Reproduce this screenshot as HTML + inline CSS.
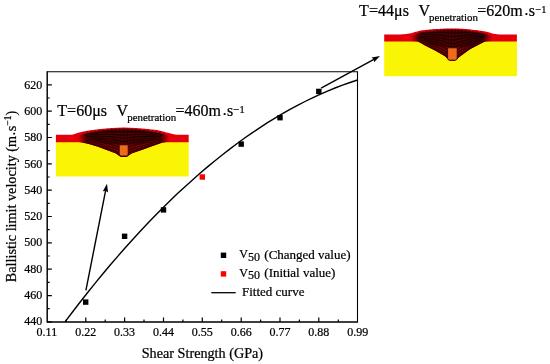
<!DOCTYPE html>
<html><head><meta charset="utf-8"><title>Ballistic limit velocity vs Shear Strength</title>
<style>
html,body{margin:0;padding:0;background:#fff;}
body{width:550px;height:364px;overflow:hidden;}
svg{display:block;}
text{font-family:"Liberation Serif","Times New Roman",serif;fill:#000;stroke:#000;stroke-width:0.22px;}
.tk{font-size:12px;}
.ax{font-size:14.2px;}
.lg{font-size:13px;}
.an{font-size:16px;}
</style></head><body>
<svg width="550" height="364" viewBox="0 0 550 364">
<rect width="550" height="364" fill="#fff"/>

<g stroke="#000" stroke-width="1.2" fill="none">
<path d="M47.2,71.2V321.9H358.05" stroke-width="1.45"/><path d="M47.2,71.7H357.5V321.9" stroke-width="1.1"/>
<path d="M47.2,321.9h4.6 M47.2,295.6h4.6 M47.2,269.2h4.6 M47.2,242.9h4.6 M47.2,216.5h4.6 M47.2,190.2h4.6 M47.2,163.8h4.6 M47.2,137.5h4.6 M47.2,111.1h4.6 M47.2,84.8h4.6 M47.2,308.7h2.5 M47.2,282.4h2.5 M47.2,256.0h2.5 M47.2,229.7h2.5 M47.2,203.4h2.5 M47.2,177.0h2.5 M47.2,150.7h2.5 M47.2,124.3h2.5 M47.2,98.0h2.5 M85.8,321.9v-4.3 M124.6,321.9v-4.3 M163.5,321.9v-4.3 M202.3,321.9v-4.3 M241.2,321.9v-4.3 M280.0,321.9v-4.3 M318.8,321.9v-4.3 M66.3,321.9v-2.3 M105.2,321.9v-2.3 M144.0,321.9v-2.3 M182.9,321.9v-2.3 M221.7,321.9v-2.3 M260.6,321.9v-2.3 M299.4,321.9v-2.3 M338.3,321.9v-2.3"/>
</g>
<text class="tk" x="42.3" y="325" text-anchor="end">440</text>
<text class="tk" x="42.3" y="299" text-anchor="end">460</text>
<text class="tk" x="42.3" y="273" text-anchor="end">480</text>
<text class="tk" x="42.3" y="246" text-anchor="end">500</text>
<text class="tk" x="42.3" y="220" text-anchor="end">520</text>
<text class="tk" x="42.3" y="194" text-anchor="end">540</text>
<text class="tk" x="42.3" y="168" text-anchor="end">560</text>
<text class="tk" x="42.3" y="141" text-anchor="end">580</text>
<text class="tk" x="42.3" y="115" text-anchor="end">600</text>
<text class="tk" x="42.3" y="89" text-anchor="end">620</text>
<text class="tk" x="46.9" y="336.2" text-anchor="middle" font-size="11.8">0.11</text>
<text class="tk" x="85.8" y="336.2" text-anchor="middle" font-size="11.8">0.22</text>
<text class="tk" x="124.6" y="336.2" text-anchor="middle" font-size="11.8">0.33</text>
<text class="tk" x="163.5" y="336.2" text-anchor="middle" font-size="11.8">0.44</text>
<text class="tk" x="202.3" y="336.2" text-anchor="middle" font-size="11.8">0.55</text>
<text class="tk" x="241.2" y="336.2" text-anchor="middle" font-size="11.8">0.66</text>
<text class="tk" x="280.0" y="336.2" text-anchor="middle" font-size="11.8">0.77</text>
<text class="tk" x="318.8" y="336.2" text-anchor="middle" font-size="11.8">0.88</text>
<text class="tk" x="357.7" y="336.2" text-anchor="middle" font-size="11.8">0.99</text>
<text class="ax" x="202.4" y="358.3" text-anchor="middle">Shear Strength (GPa)</text>
<text class="ax" transform="translate(16.1,196.5) rotate(-90)" text-anchor="middle">Ballistic limit velocity (m<tspan dy="2.8">·</tspan><tspan dy="-2.8">s</tspan><tspan font-size="9.5" dy="-5">−1</tspan><tspan dy="5">)</tspan></text>
<path d="M65.0,321.9 L72.5,312.0 L80.0,302.3 L87.5,292.7 L95.0,283.4 L102.5,274.3 L110.0,265.3 L117.5,256.6 L125.0,248.0 L132.5,239.7 L140.0,231.5 L147.5,223.5 L155.0,215.8 L162.5,208.2 L170.0,200.8 L177.5,193.6 L185.0,186.7 L192.5,179.9 L200.0,173.3 L207.5,166.9 L215.0,160.7 L222.5,154.7 L230.0,148.9 L237.5,143.2 L245.0,137.8 L252.5,132.6 L260.0,127.6 L267.5,122.7 L275.0,118.1 L282.5,113.7 L290.0,109.4 L297.5,105.4 L305.0,101.5 L312.5,97.8 L320.0,94.4 L327.5,91.1 L335.0,88.0 L342.5,85.2 L350.0,82.5 L357.5,80.0" fill="none" stroke="#000" stroke-width="1.4"/>
<rect x="83.0" y="299.4" width="5.4" height="5.4" fill="#000"/>
<rect x="121.9" y="233.6" width="5.4" height="5.4" fill="#000"/>
<rect x="160.8" y="207.2" width="5.4" height="5.4" fill="#000"/>
<rect x="238.5" y="141.4" width="5.4" height="5.4" fill="#000"/>
<rect x="277.3" y="115.0" width="5.4" height="5.4" fill="#000"/>
<rect x="316.1" y="88.7" width="5.4" height="5.4" fill="#000"/>
<rect x="199.6" y="174.3" width="5.4" height="5.4" fill="#f00"/>
<rect x="220.8" y="252.6" width="5.4" height="5.4" fill="#000"/>
<rect x="220.8" y="271.2" width="5.4" height="5.4" fill="#f00"/>
<path d="M211.3,292.7H235.7" stroke="#000" stroke-width="1.3"/>
<text class="lg" y="258.5"><tspan x="239.2" font-size="12" dy="-0.3">V</tspan><tspan x="248" font-size="12" dy="2.6">50</tspan><tspan x="264.3" dy="-2.3">(Changed value)</tspan></text>
<text class="lg" y="277.1"><tspan x="239.2" font-size="12" dy="-0.3">V</tspan><tspan x="248" font-size="12" dy="2.6">50</tspan><tspan x="264.3" dy="-2.3">(Initial value)</tspan></text>
<text class="lg" x="242" y="296.3">Fitted curve</text>
<path d="M85.9,290.4L105.6,190.7" stroke="#000" stroke-width="1.4" fill="none"/><path d="M107.0,183.8L108.1,192.4L105.6,190.7L102.8,191.3Z" fill="#000"/>
<path d="M321.1,88.2L373.9,59.4" stroke="#000" stroke-width="1.4" fill="none"/><path d="M380.0,56.0L374.1,62.3L373.9,59.4L371.5,57.6Z" fill="#000"/>
<text class="an" y="116.2"><tspan x="57.3" textLength="49.8" lengthAdjust="spacingAndGlyphs">T=60μs</tspan><tspan x="116.6">V</tspan><tspan x="127.2" font-size="10.9" dy="4.4">penetration</tspan><tspan x="175.5" dy="-4.4">=460m</tspan><tspan x="221.9" dy="3.3">·</tspan><tspan x="226.9" dy="-3.3">s</tspan><tspan x="233.6" font-size="10.4" dy="-3.0">−1</tspan></text>
<text class="an" y="16.3"><tspan x="359.1" textLength="49.8" lengthAdjust="spacingAndGlyphs">T=44μs</tspan><tspan x="418.4">V</tspan><tspan x="429.0" font-size="10.9" dy="4.4">penetration</tspan><tspan x="477.3" dy="-4.4">=620m</tspan><tspan x="523.7" dy="3.3">·</tspan><tspan x="528.7" dy="-3.3">s</tspan><tspan x="535.4" font-size="10.4" dy="-3.0">−1</tspan></text>
<g><rect x="55.9" y="141.2" width="132.8" height="35.3" fill="#f9f505"/><path d="M55.9,134.7C57.6,134.7 63.1,134.7 66.0,134.7C68.8,134.7 70.8,134.8 73.0,134.5C75.2,134.2 76.8,133.2 79.0,132.6C81.2,132.0 82.5,131.5 86.0,130.9C89.5,130.3 95.7,129.5 100.0,129.0C104.3,128.5 108.0,128.2 112.0,128.0C116.0,127.8 119.7,127.6 123.7,127.6C127.7,127.6 131.9,127.8 136.0,128.0C140.1,128.2 143.8,128.6 148.0,129.1C152.2,129.6 157.7,130.3 161.0,130.9C164.3,131.5 165.7,132.2 168.0,132.8C170.3,133.4 172.7,134.3 175.0,134.6C177.3,134.9 179.7,134.7 182.0,134.7C184.3,134.7 187.6,134.7 188.7,134.7L188.7,142.2 L166.0,142.2 L162.0,142.8 L152.0,146.3 L141.0,150.2 L131.5,153.6 L129.0,155.2 L127.0,156.8 L123.7,157.0 L120.5,156.8 L118.6,155.4 L116.0,153.6 L108.0,150.6 L98.0,146.8 L88.0,143.8 L80.0,142.2 L55.9,142.2Z" fill="#e2000d"/><clipPath id="c1"><path d="M55.9,134.7C57.6,134.7 63.1,134.7 66.0,134.7C68.8,134.7 70.8,134.8 73.0,134.5C75.2,134.2 76.8,133.2 79.0,132.6C81.2,132.0 82.5,131.5 86.0,130.9C89.5,130.3 95.7,129.5 100.0,129.0C104.3,128.5 108.0,128.2 112.0,128.0C116.0,127.8 119.7,127.6 123.7,127.6C127.7,127.6 131.9,127.8 136.0,128.0C140.1,128.2 143.8,128.6 148.0,129.1C152.2,129.6 157.7,130.3 161.0,130.9C164.3,131.5 165.7,132.2 168.0,132.8C170.3,133.4 172.7,134.3 175.0,134.6C177.3,134.9 179.7,134.7 182.0,134.7C184.3,134.7 187.6,134.7 188.7,134.7L188.7,142.2 L166.0,142.2 L162.0,142.8 L152.0,146.3 L141.0,150.2 L131.5,153.6 L129.0,155.2 L127.0,156.8 L123.7,157.0 L120.5,156.8 L118.6,155.4 L116.0,153.6 L108.0,150.6 L98.0,146.8 L88.0,143.8 L80.0,142.2 L55.9,142.2Z"/></clipPath><linearGradient id="g1" gradientUnits="userSpaceOnUse" x1="78" y1="0" x2="169.5" y2="0"><stop offset="0" stop-color="#fff" stop-opacity="0"/><stop offset="0.098" stop-color="#fff" stop-opacity="1"/><stop offset="0.902" stop-color="#fff" stop-opacity="1"/><stop offset="1" stop-color="#fff" stop-opacity="0"/></linearGradient><mask id="m1" maskUnits="userSpaceOnUse" x="55.9" y="124.69999999999999" width="132.79999999999998" height="40"><rect x="55.9" y="124.69999999999999" width="132.79999999999998" height="40" fill="url(#g1)"/></mask><g clip-path="url(#c1)"><g mask="url(#m1)"><path d="M78.0,135.7 L80.3,134.8 L82.6,134.0 L84.9,133.3 L87.2,132.7 L89.4,132.2 L91.7,131.7 L94.0,131.3 L96.3,130.9 L98.6,130.5 L100.9,130.2 L103.2,129.9 L105.5,129.7 L107.7,129.4 L110.0,129.2 L112.3,129.0 L114.6,128.9 L116.9,128.8 L119.2,128.8 L121.5,128.7 L123.8,128.6 L126.0,128.7 L128.3,128.8 L130.6,128.8 L132.9,128.9 L135.2,129.0 L137.5,129.2 L139.8,129.4 L142.1,129.7 L144.3,129.9 L146.6,130.2 L148.9,130.5 L151.2,130.9 L153.5,131.4 L155.8,131.8 L158.1,132.3 L160.3,132.7 L162.6,133.4 L164.9,134.3 L167.2,135.1 L169.5,136.0 L169.5,142.8 L167.2,142.8 L164.9,143.0 L162.6,143.3 L160.3,144.0 L158.1,144.8 L155.8,145.6 L153.5,146.4 L151.2,147.2 L148.9,148.0 L146.6,148.8 L144.3,149.6 L142.1,150.4 L139.8,151.2 L137.5,152.1 L135.2,152.9 L132.9,153.7 L130.6,154.8 L128.3,156.3 L126.0,157.5 L123.8,157.6 L121.5,157.5 L119.2,156.4 L116.9,154.8 L114.6,153.7 L112.3,152.8 L110.0,152.0 L107.7,151.1 L105.5,150.2 L103.2,149.4 L100.9,148.5 L98.6,147.6 L96.3,146.9 L94.0,146.2 L91.7,145.5 L89.4,144.8 L87.2,144.2 L84.9,143.8 L82.6,143.3 L80.3,142.9 L78.0,142.8Z" fill="#840407"/><path d="M78.0,136.5C78.8,136.3 81.0,135.5 82.6,135.1C84.1,134.6 85.6,134.3 87.2,134.0C88.7,133.6 90.2,133.5 91.7,133.3C93.2,133.1 94.8,132.8 96.3,132.7C97.8,132.5 99.3,132.3 100.9,132.2C102.4,132.1 103.9,132.0 105.5,131.9C107.0,131.9 108.5,131.8 110.0,131.7C111.6,131.7 113.1,131.7 114.6,131.7C116.1,131.7 117.6,131.8 119.2,131.8C120.7,131.9 122.2,131.8 123.8,131.8C125.3,131.8 126.8,131.8 128.3,131.8C129.8,131.8 131.4,131.7 132.9,131.7C134.4,131.7 135.9,131.7 137.5,131.7C139.0,131.8 140.5,131.9 142.1,132.0C143.6,132.1 145.1,132.1 146.6,132.3C148.2,132.4 149.7,132.6 151.2,132.7C152.7,132.9 154.2,133.1 155.8,133.3C157.3,133.5 158.8,133.7 160.3,134.0C161.9,134.3 163.4,134.8 164.9,135.2C166.5,135.7 168.7,136.5 169.5,136.7" fill="none" stroke="#180000" stroke-width="1.19" opacity="0.9"/><path d="M78.0,137.3C78.8,137.1 81.0,136.4 82.6,136.1C84.1,135.8 85.6,135.5 87.2,135.2C88.7,135.0 90.2,134.9 91.7,134.8C93.2,134.7 94.8,134.5 96.3,134.4C97.8,134.4 99.3,134.3 100.9,134.2C102.4,134.2 103.9,134.2 105.5,134.2C107.0,134.2 108.5,134.2 110.0,134.3C111.6,134.3 113.1,134.3 114.6,134.4C116.1,134.5 117.6,134.8 119.2,134.9C120.7,135.0 122.2,135.0 123.8,135.0C125.3,135.0 126.8,135.0 128.3,134.9C129.8,134.8 131.4,134.5 132.9,134.4C134.4,134.3 135.9,134.3 137.5,134.3C139.0,134.2 140.5,134.3 142.1,134.3C143.6,134.3 145.1,134.3 146.6,134.3C148.2,134.4 149.7,134.5 151.2,134.5C152.7,134.6 154.2,134.7 155.8,134.9C157.3,135.0 158.8,135.0 160.3,135.2C161.9,135.5 163.4,135.8 164.9,136.2C166.5,136.6 168.7,137.3 169.5,137.5" fill="none" stroke="#180000" stroke-width="1.14" opacity="0.9"/><path d="M78.0,138.1C78.8,137.9 81.0,137.4 82.6,137.1C84.1,136.9 85.6,136.7 87.2,136.5C88.7,136.4 90.2,136.4 91.7,136.3C93.2,136.3 94.8,136.2 96.3,136.2C97.8,136.2 99.3,136.2 100.9,136.3C102.4,136.3 103.9,136.4 105.5,136.5C107.0,136.6 108.5,136.7 110.0,136.8C111.6,136.9 113.1,137.0 114.6,137.2C116.1,137.4 117.6,137.8 119.2,138.0C120.7,138.2 122.2,138.3 123.8,138.3C125.3,138.3 126.8,138.1 128.3,137.9C129.8,137.8 131.4,137.4 132.9,137.2C134.4,137.0 135.9,136.9 137.5,136.8C139.0,136.7 140.5,136.7 142.1,136.6C143.6,136.5 145.1,136.4 146.6,136.4C148.2,136.4 149.7,136.4 151.2,136.3C152.7,136.3 154.2,136.4 155.8,136.4C157.3,136.4 158.8,136.3 160.3,136.5C161.9,136.6 163.4,136.9 164.9,137.2C166.5,137.5 168.7,138.1 169.5,138.3" fill="none" stroke="#180000" stroke-width="1.08" opacity="0.9"/><path d="M78.0,138.9C78.8,138.7 81.0,138.3 82.6,138.2C84.1,138.0 85.6,137.9 87.2,137.8C88.7,137.8 90.2,137.8 91.7,137.9C93.2,137.9 94.8,137.9 96.3,138.0C97.8,138.1 99.3,138.2 100.9,138.3C102.4,138.4 103.9,138.6 105.5,138.8C107.0,139.0 108.5,139.1 110.0,139.3C111.6,139.5 113.1,139.6 114.6,139.9C116.1,140.2 117.6,140.8 119.2,141.1C120.7,141.3 122.2,141.5 123.8,141.5C125.3,141.5 126.8,141.3 128.3,141.0C129.8,140.8 131.4,140.2 132.9,139.9C134.4,139.7 135.9,139.5 137.5,139.4C139.0,139.2 140.5,139.0 142.1,138.9C143.6,138.7 145.1,138.6 146.6,138.5C148.2,138.3 149.7,138.2 151.2,138.2C152.7,138.1 154.2,138.0 155.8,137.9C157.3,137.8 158.8,137.7 160.3,137.7C161.9,137.8 163.4,137.9 164.9,138.1C166.5,138.4 168.7,138.9 169.5,139.0" fill="none" stroke="#180000" stroke-width="1.03" opacity="0.9"/><path d="M78.0,139.7C78.8,139.6 81.0,139.3 82.6,139.2C84.1,139.1 85.6,139.1 87.2,139.1C88.7,139.1 90.2,139.3 91.7,139.4C93.2,139.5 94.8,139.6 96.3,139.8C97.8,139.9 99.3,140.1 100.9,140.3C102.4,140.6 103.9,140.8 105.5,141.1C107.0,141.3 108.5,141.6 110.0,141.8C111.6,142.1 113.1,142.3 114.6,142.7C116.1,143.1 117.6,143.8 119.2,144.1C120.7,144.5 122.2,144.7 123.8,144.7C125.3,144.7 126.8,144.4 128.3,144.1C129.8,143.7 131.4,143.0 132.9,142.7C134.4,142.3 135.9,142.1 137.5,141.9C139.0,141.6 140.5,141.4 142.1,141.2C143.6,141.0 145.1,140.7 146.6,140.5C148.2,140.3 149.7,140.1 151.2,140.0C152.7,139.8 154.2,139.6 155.8,139.5C157.3,139.3 158.8,139.0 160.3,139.0C161.9,138.9 163.4,139.0 164.9,139.1C166.5,139.2 168.7,139.7 169.5,139.8" fill="none" stroke="#180000" stroke-width="0.97" opacity="0.9"/><path d="M78.0,140.4C78.8,140.4 81.0,140.2 82.6,140.2C84.1,140.2 85.6,140.3 87.2,140.4C88.7,140.5 90.2,140.7 91.7,140.9C93.2,141.1 94.8,141.3 96.3,141.6C97.8,141.8 99.3,142.1 100.9,142.4C102.4,142.7 103.9,143.0 105.5,143.4C107.0,143.7 108.5,144.0 110.0,144.4C111.6,144.7 113.1,145.0 114.6,145.4C116.1,145.9 117.6,146.8 119.2,147.2C120.7,147.6 122.2,147.9 123.8,147.9C125.3,147.9 126.8,147.6 128.3,147.1C129.8,146.7 131.4,145.9 132.9,145.4C134.4,145.0 135.9,144.8 137.5,144.4C139.0,144.1 140.5,143.8 142.1,143.5C143.6,143.2 145.1,142.9 146.6,142.6C148.2,142.3 149.7,142.0 151.2,141.8C152.7,141.5 154.2,141.2 155.8,141.0C157.3,140.7 158.8,140.4 160.3,140.2C161.9,140.1 163.4,140.0 164.9,140.1C166.5,140.1 168.7,140.5 169.5,140.5" fill="none" stroke="#180000" stroke-width="0.92" opacity="0.9"/><path d="M78.0,141.2C78.8,141.2 81.0,141.2 82.6,141.3C84.1,141.3 85.6,141.5 87.2,141.7C88.7,141.9 90.2,142.2 91.7,142.5C93.2,142.7 94.8,143.0 96.3,143.3C97.8,143.7 99.3,144.0 100.9,144.4C102.4,144.8 103.9,145.2 105.5,145.7C107.0,146.1 108.5,146.5 110.0,146.9C111.6,147.3 113.1,147.6 114.6,148.2C116.1,148.7 117.6,149.8 119.2,150.3C120.7,150.8 122.2,151.2 123.8,151.2C125.3,151.1 126.8,150.7 128.3,150.2C129.8,149.7 131.4,148.7 132.9,148.2C134.4,147.7 135.9,147.4 137.5,147.0C139.0,146.6 140.5,146.2 142.1,145.8C143.6,145.4 145.1,145.0 146.6,144.7C148.2,144.3 149.7,143.9 151.2,143.6C152.7,143.2 154.2,142.9 155.8,142.5C157.3,142.2 158.8,141.7 160.3,141.5C161.9,141.2 163.4,141.1 164.9,141.0C166.5,141.0 168.7,141.2 169.5,141.3" fill="none" stroke="#180000" stroke-width="0.86" opacity="0.9"/><path d="M78.0,142.0C78.8,142.1 81.0,142.1 82.6,142.3C84.1,142.4 85.6,142.7 87.2,142.9C88.7,143.2 90.2,143.6 91.7,144.0C93.2,144.3 94.8,144.7 96.3,145.1C97.8,145.5 99.3,146.0 100.9,146.5C102.4,146.9 103.9,147.4 105.5,147.9C107.0,148.4 108.5,148.9 110.0,149.4C111.6,149.9 113.1,150.3 114.6,150.9C116.1,151.6 117.6,152.8 119.2,153.3C120.7,153.9 122.2,154.4 123.8,154.4C125.3,154.4 126.8,153.8 128.3,153.3C129.8,152.7 131.4,151.6 132.9,150.9C134.4,150.3 135.9,150.0 137.5,149.5C139.0,149.0 140.5,148.6 142.1,148.1C143.6,147.7 145.1,147.2 146.6,146.7C148.2,146.3 149.7,145.8 151.2,145.4C152.7,144.9 154.2,144.5 155.8,144.0C157.3,143.6 158.8,143.1 160.3,142.7C161.9,142.4 163.4,142.1 164.9,142.0C166.5,141.9 168.7,142.0 169.5,142.0" fill="none" stroke="#180000" stroke-width="0.81" opacity="0.9"/><path d="M82.2,131.8L100.9,147.9 M86.3,130.9L103.1,148.8 M90.5,130.3L105.4,149.6 M94.6,129.7L107.7,150.5 M98.8,129.2L110.0,151.4 M103.0,128.8L112.3,152.2 M107.1,128.4L114.6,153.1 M111.3,128.1L116.9,154.2 M115.4,127.9L119.2,155.8 M119.6,127.7L121.4,156.9 M123.8,127.6L123.7,157.0 M127.9,127.7L126.0,156.9 M132.1,127.9L128.3,155.8 M136.2,128.0L130.6,154.2 M140.4,128.4L132.9,153.1 M144.5,128.8L135.2,152.3 M148.7,129.2L137.5,151.5 M152.9,129.8L139.7,150.7 M157.0,130.3L142.0,149.8 M161.2,130.9L144.3,149.0 M165.3,132.1L146.6,148.2" fill="none" stroke="#180000" stroke-width="0.6" opacity="0.75"/><path d="M80.0,142.0 L88.0,143.6 L98.0,146.6 L108.0,150.4 L116.0,153.4 L118.6,155.2 L120.5,156.6 L123.7,156.8 L127.0,156.6 L129.0,155.0 L131.5,153.4 L141.0,150.0 L152.0,146.1 L162.0,142.6 L166.0,142.0" fill="none" stroke="#1c0000" stroke-width="1.1" opacity="0.85"/><ellipse cx="123.7" cy="136.7" rx="32.9" ry="7.9" fill="#1a0000" opacity="0.5"/></g></g><path d="M119.2,144.8 H128.2 V154.0 Q128.2,156.0 126.19999999999999,156.0 H121.2 Q119.2,156.0 119.2,154.0Z" fill="#f06a1e" stroke="#2c0500" stroke-width="0.9"/></g>
<g><rect x="384.2" y="40.6" width="132.7" height="35.6" fill="#f9f505"/><path d="M384.2,34.4C386.2,34.4 392.7,34.4 396.0,34.4C399.3,34.4 401.5,34.4 404.0,34.2C406.5,34.0 409.0,33.6 411.0,33.2C413.0,32.8 414.3,32.3 416.0,31.8C417.7,31.3 418.7,30.8 421.0,30.4C423.3,30.0 426.7,29.7 430.0,29.4C433.3,29.1 437.3,28.9 441.0,28.7C444.7,28.5 448.3,28.4 452.0,28.4C455.7,28.4 459.2,28.5 463.0,28.8C466.8,29.1 471.3,29.6 475.0,30.0C478.7,30.4 482.3,31.0 485.0,31.5C487.7,32.0 489.0,32.4 491.0,32.9C493.0,33.4 494.5,34.0 497.0,34.2C499.5,34.5 502.7,34.4 506.0,34.4C509.3,34.4 515.1,34.4 516.9,34.4L516.9,41.6 L486.0,41.6 L484.0,42.0 L480.0,44.0 L470.0,49.2 L460.0,56.5 L457.4,58.8 L455.0,60.4 L452.3,60.8 L449.5,60.4 L447.5,58.8 L445.0,56.2 L435.0,50.6 L425.0,45.5 L420.0,42.4 L417.0,41.6 L384.2,41.6Z" fill="#e2000d"/><clipPath id="c2"><path d="M384.2,34.4C386.2,34.4 392.7,34.4 396.0,34.4C399.3,34.4 401.5,34.4 404.0,34.2C406.5,34.0 409.0,33.6 411.0,33.2C413.0,32.8 414.3,32.3 416.0,31.8C417.7,31.3 418.7,30.8 421.0,30.4C423.3,30.0 426.7,29.7 430.0,29.4C433.3,29.1 437.3,28.9 441.0,28.7C444.7,28.5 448.3,28.4 452.0,28.4C455.7,28.4 459.2,28.5 463.0,28.8C466.8,29.1 471.3,29.6 475.0,30.0C478.7,30.4 482.3,31.0 485.0,31.5C487.7,32.0 489.0,32.4 491.0,32.9C493.0,33.4 494.5,34.0 497.0,34.2C499.5,34.5 502.7,34.4 506.0,34.4C509.3,34.4 515.1,34.4 516.9,34.4L516.9,41.6 L486.0,41.6 L484.0,42.0 L480.0,44.0 L470.0,49.2 L460.0,56.5 L457.4,58.8 L455.0,60.4 L452.3,60.8 L449.5,60.4 L447.5,58.8 L445.0,56.2 L435.0,50.6 L425.0,45.5 L420.0,42.4 L417.0,41.6 L384.2,41.6Z"/></clipPath><linearGradient id="g2" gradientUnits="userSpaceOnUse" x1="411" y1="0" x2="492" y2="0"><stop offset="0" stop-color="#fff" stop-opacity="0"/><stop offset="0.111" stop-color="#fff" stop-opacity="1"/><stop offset="0.889" stop-color="#fff" stop-opacity="1"/><stop offset="1" stop-color="#fff" stop-opacity="0"/></linearGradient><mask id="m2" maskUnits="userSpaceOnUse" x="384.2" y="24.4" width="132.7" height="40"><rect x="384.2" y="24.4" width="132.7" height="40" fill="url(#g2)"/></mask><g clip-path="url(#c2)"><g mask="url(#m2)"><path d="M411.0,36.0 L413.0,35.2 L415.1,34.4 L417.1,33.6 L419.1,32.9 L421.1,32.1 L423.1,31.8 L425.2,31.4 L427.2,31.1 L429.2,30.8 L431.2,30.5 L433.3,30.4 L435.3,30.2 L437.3,30.0 L439.4,29.9 L441.4,29.7 L443.4,29.6 L445.4,29.6 L447.4,29.5 L449.5,29.5 L451.5,29.4 L453.5,29.5 L455.6,29.5 L457.6,29.6 L459.6,29.7 L461.6,29.8 L463.6,29.9 L465.7,30.1 L467.7,30.4 L469.7,30.6 L471.8,30.9 L473.8,31.2 L475.8,31.5 L477.8,31.9 L479.9,32.3 L481.9,32.8 L483.9,33.3 L485.9,33.8 L487.9,34.5 L490.0,35.2 L492.0,35.9 L492.0,42.2 L490.0,42.2 L487.9,42.2 L485.9,42.2 L483.9,42.7 L481.9,43.7 L479.9,44.7 L477.8,45.7 L475.8,46.8 L473.8,47.8 L471.8,48.9 L469.7,50.0 L467.7,51.5 L465.7,53.0 L463.6,54.4 L461.6,55.9 L459.6,57.5 L457.6,59.2 L455.6,60.6 L453.5,61.2 L451.5,61.3 L449.5,61.0 L447.4,59.3 L445.4,57.2 L443.4,55.9 L441.4,54.8 L439.4,53.6 L437.3,52.5 L435.3,51.4 L433.3,50.3 L431.2,49.3 L429.2,48.3 L427.2,47.2 L425.2,46.2 L423.1,45.0 L421.1,43.7 L419.1,42.8 L417.1,42.2 L415.1,42.2 L413.0,42.2 L411.0,42.2Z" fill="#840407"/><path d="M411.0,36.7C411.7,36.4 413.7,35.7 415.1,35.2C416.4,34.8 417.8,34.3 419.1,34.0C420.5,33.6 421.8,33.4 423.1,33.2C424.5,33.1 425.8,33.0 427.2,32.9C428.6,32.8 429.9,32.7 431.2,32.6C432.6,32.6 433.9,32.6 435.3,32.5C436.7,32.5 438.0,32.5 439.4,32.5C440.7,32.5 442.0,32.5 443.4,32.6C444.8,32.6 446.1,32.8 447.4,32.8C448.8,32.9 450.1,32.9 451.5,33.0C452.9,33.0 454.2,33.0 455.6,33.0C456.9,33.0 458.2,32.8 459.6,32.8C461.0,32.7 462.3,32.6 463.6,32.6C465.0,32.6 466.3,32.7 467.7,32.7C469.1,32.8 470.4,32.8 471.8,32.9C473.1,33.0 474.4,33.1 475.8,33.2C477.2,33.3 478.5,33.5 479.9,33.7C481.2,33.9 482.5,34.0 483.9,34.3C485.2,34.6 486.6,35.0 487.9,35.4C489.3,35.7 491.3,36.4 492.0,36.6" fill="none" stroke="#180000" stroke-width="1.19" opacity="0.9"/><path d="M411.0,37.4C411.7,37.2 413.7,36.5 415.1,36.1C416.4,35.7 417.8,35.3 419.1,35.1C420.5,34.8 421.8,34.8 423.1,34.7C424.5,34.6 425.8,34.7 427.2,34.7C428.6,34.7 429.9,34.7 431.2,34.7C432.6,34.7 433.9,34.8 435.3,34.9C436.7,35.0 438.0,35.0 439.4,35.1C440.7,35.2 442.0,35.3 443.4,35.5C444.8,35.7 446.1,36.0 447.4,36.2C448.8,36.3 450.1,36.4 451.5,36.5C452.9,36.5 454.2,36.5 455.6,36.4C456.9,36.3 458.2,36.0 459.6,35.9C461.0,35.7 462.3,35.5 463.6,35.4C465.0,35.2 466.3,35.2 467.7,35.1C469.1,35.0 470.4,34.9 471.8,34.9C473.1,34.9 474.4,34.9 475.8,34.9C477.2,34.9 478.5,35.0 479.9,35.1C481.2,35.2 482.5,35.2 483.9,35.3C485.2,35.5 486.6,35.9 487.9,36.2C489.3,36.5 491.3,37.1 492.0,37.3" fill="none" stroke="#180000" stroke-width="1.14" opacity="0.9"/><path d="M411.0,38.1C411.7,37.9 413.7,37.3 415.1,37.0C416.4,36.7 417.8,36.3 419.1,36.2C420.5,36.0 421.8,36.1 423.1,36.2C424.5,36.2 425.8,36.4 427.2,36.5C428.6,36.6 429.9,36.7 431.2,36.8C432.6,36.9 433.9,37.1 435.3,37.2C436.7,37.4 438.0,37.6 439.4,37.8C440.7,38.0 442.0,38.1 443.4,38.4C444.8,38.7 446.1,39.2 447.4,39.5C448.8,39.7 450.1,40.0 451.5,40.0C452.9,40.1 454.2,40.1 455.6,39.9C456.9,39.7 458.2,39.2 459.6,38.9C461.0,38.6 462.3,38.3 463.6,38.1C465.0,37.8 466.3,37.6 467.7,37.4C469.1,37.2 470.4,37.0 471.8,36.9C473.1,36.8 474.4,36.7 475.8,36.6C477.2,36.5 478.5,36.5 479.9,36.5C481.2,36.4 482.5,36.3 483.9,36.4C485.2,36.5 486.6,36.8 487.9,37.1C489.3,37.3 491.3,37.9 492.0,38.0" fill="none" stroke="#180000" stroke-width="1.08" opacity="0.9"/><path d="M411.0,38.8C411.7,38.6 413.7,38.1 415.1,37.9C416.4,37.6 417.8,37.3 419.1,37.3C420.5,37.2 421.8,37.5 423.1,37.6C424.5,37.8 425.8,38.1 427.2,38.3C428.6,38.5 429.9,38.7 431.2,38.9C432.6,39.1 433.9,39.3 435.3,39.6C436.7,39.9 438.0,40.1 439.4,40.4C440.7,40.7 442.0,40.9 443.4,41.3C444.8,41.7 446.1,42.4 447.4,42.8C448.8,43.2 450.1,43.5 451.5,43.6C452.9,43.7 454.2,43.6 455.6,43.4C456.9,43.1 458.2,42.5 459.6,42.0C461.0,41.6 462.3,41.2 463.6,40.8C465.0,40.4 466.3,40.1 467.7,39.8C469.1,39.4 470.4,39.1 471.8,38.9C473.1,38.7 474.4,38.5 475.8,38.3C477.2,38.1 478.5,38.0 479.9,37.8C481.2,37.7 482.5,37.4 483.9,37.4C485.2,37.4 486.6,37.7 487.9,37.9C489.3,38.1 491.3,38.6 492.0,38.7" fill="none" stroke="#180000" stroke-width="1.03" opacity="0.9"/><path d="M411.0,39.4C411.7,39.3 413.7,38.9 415.1,38.7C416.4,38.5 417.8,38.3 419.1,38.4C420.5,38.4 421.8,38.8 423.1,39.1C424.5,39.4 425.8,39.7 427.2,40.1C428.6,40.4 429.9,40.6 431.2,41.0C432.6,41.3 433.9,41.6 435.3,42.0C436.7,42.3 438.0,42.7 439.4,43.1C440.7,43.4 442.0,43.7 443.4,44.2C444.8,44.7 446.1,45.6 447.4,46.1C448.8,46.6 450.1,47.0 451.5,47.1C452.9,47.2 454.2,47.1 455.6,46.8C456.9,46.5 458.2,45.7 459.6,45.1C461.0,44.6 462.3,44.0 463.6,43.5C465.0,43.0 466.3,42.5 467.7,42.1C469.1,41.7 470.4,41.2 471.8,40.9C473.1,40.5 474.4,40.3 475.8,40.0C477.2,39.7 478.5,39.4 479.9,39.2C481.2,38.9 482.5,38.5 483.9,38.5C485.2,38.4 486.6,38.6 487.9,38.8C489.3,38.9 491.3,39.3 492.0,39.4" fill="none" stroke="#180000" stroke-width="0.97" opacity="0.9"/><path d="M411.0,40.1C411.7,40.0 413.7,39.7 415.1,39.6C416.4,39.5 417.8,39.3 419.1,39.5C420.5,39.6 421.8,40.2 423.1,40.6C424.5,41.0 425.8,41.4 427.2,41.8C428.6,42.3 429.9,42.6 431.2,43.0C432.6,43.4 433.9,43.9 435.3,44.3C436.7,44.7 438.0,45.2 439.4,45.7C440.7,46.2 442.0,46.5 443.4,47.2C444.8,47.8 446.1,48.8 447.4,49.4C448.8,50.0 450.1,50.5 451.5,50.7C452.9,50.8 454.2,50.7 455.6,50.3C456.9,49.9 458.2,48.9 459.6,48.2C461.0,47.5 462.3,46.9 463.6,46.3C465.0,45.6 466.3,45.0 467.7,44.4C469.1,43.9 470.4,43.4 471.8,42.9C473.1,42.4 474.4,42.1 475.8,41.7C477.2,41.3 478.5,40.9 479.9,40.6C481.2,40.2 482.5,39.7 483.9,39.5C485.2,39.4 486.6,39.5 487.9,39.6C489.3,39.7 491.3,40.0 492.0,40.1" fill="none" stroke="#180000" stroke-width="0.92" opacity="0.9"/><path d="M411.0,40.8C411.7,40.8 413.7,40.5 415.1,40.5C416.4,40.4 417.8,40.3 419.1,40.6C420.5,40.8 421.8,41.5 423.1,42.0C424.5,42.5 425.8,43.1 427.2,43.6C428.6,44.2 429.9,44.6 431.2,45.1C432.6,45.6 433.9,46.1 435.3,46.7C436.7,47.2 438.0,47.8 439.4,48.4C440.7,48.9 442.0,49.3 443.4,50.1C444.8,50.8 446.1,52.0 447.4,52.7C448.8,53.4 450.1,54.0 451.5,54.2C452.9,54.4 454.2,54.2 455.6,53.7C456.9,53.2 458.2,52.1 459.6,51.3C461.0,50.5 462.3,49.7 463.6,49.0C465.0,48.2 466.3,47.5 467.7,46.8C469.1,46.1 470.4,45.5 471.8,44.9C473.1,44.3 474.4,43.9 475.8,43.4C477.2,42.9 478.5,42.4 479.9,41.9C481.2,41.5 482.5,40.8 483.9,40.6C485.2,40.3 486.6,40.4 487.9,40.5C489.3,40.5 491.3,40.8 492.0,40.8" fill="none" stroke="#180000" stroke-width="0.86" opacity="0.9"/><path d="M411.0,41.5C411.7,41.5 413.7,41.3 415.1,41.3C416.4,41.4 417.8,41.3 419.1,41.7C420.5,42.0 421.8,42.9 423.1,43.5C424.5,44.1 425.8,44.8 427.2,45.4C428.6,46.0 429.9,46.6 431.2,47.2C432.6,47.8 433.9,48.4 435.3,49.0C436.7,49.6 438.0,50.3 439.4,51.0C440.7,51.7 442.0,52.1 443.4,53.0C444.8,53.8 446.1,55.2 447.4,56.0C448.8,56.8 450.1,57.6 451.5,57.7C452.9,57.9 454.2,57.7 455.6,57.2C456.9,56.6 458.2,55.3 459.6,54.4C461.0,53.5 462.3,52.6 463.6,51.7C465.0,50.8 466.3,49.9 467.7,49.1C469.1,48.3 470.4,47.6 471.8,46.9C473.1,46.2 474.4,45.7 475.8,45.1C477.2,44.5 478.5,43.9 479.9,43.3C481.2,42.7 482.5,41.9 483.9,41.6C485.2,41.3 486.6,41.4 487.9,41.3C489.3,41.3 491.3,41.5 492.0,41.5" fill="none" stroke="#180000" stroke-width="0.81" opacity="0.9"/><path d="M414.7,32.2L431.7,48.9 M418.4,31.1L433.7,49.9 M422.0,30.3L435.7,51.0 M425.7,29.9L437.7,52.1 M429.4,29.5L439.8,53.3 M433.1,29.2L441.8,54.4 M436.8,29.0L443.8,55.5 M440.5,28.7L445.8,57.1 M444.1,28.6L447.9,59.1 M447.8,28.5L449.9,60.5 M451.5,28.4L451.9,60.7 M455.2,28.5L453.9,60.6 M458.9,28.6L456.0,59.8 M462.5,28.8L458.0,58.3 M466.2,29.1L460.0,56.5 M469.9,29.5L462.0,55.0 M473.6,29.9L464.1,53.5 M477.3,30.3L466.1,52.1 M481.0,30.9L468.1,50.6 M484.6,31.4L470.1,49.1 M488.3,32.3L472.2,48.1" fill="none" stroke="#180000" stroke-width="0.6" opacity="0.75"/><path d="M417.0,41.4 L420.0,42.2 L425.0,45.3 L435.0,50.4 L445.0,56.0 L447.5,58.6 L449.5,60.2 L452.3,60.6 L455.0,60.2 L457.4,58.6 L460.0,56.3 L470.0,49.0 L480.0,43.8 L484.0,41.8 L486.0,41.4" fill="none" stroke="#1c0000" stroke-width="1.1" opacity="0.85"/><ellipse cx="452.4" cy="38.6" rx="29.2" ry="8.9" fill="#1a0000" opacity="0.5"/></g></g><path d="M447.6,47.8 H457.2 V58.2 Q457.2,60.2 455.2,60.2 H449.6 Q447.6,60.2 447.6,58.2Z" fill="#f06a1e" stroke="#2c0500" stroke-width="0.9"/></g>
</svg></body></html>
